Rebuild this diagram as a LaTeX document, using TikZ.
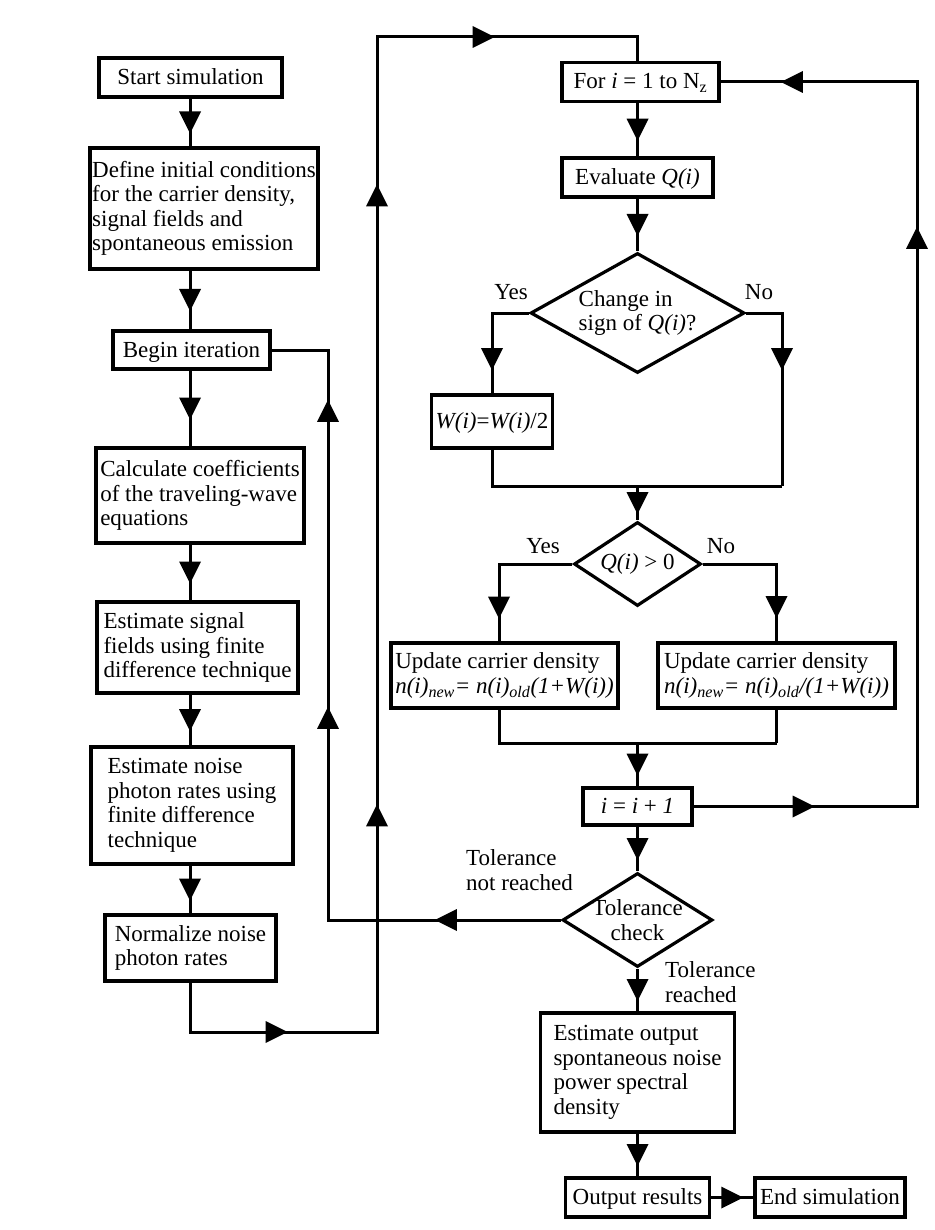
\documentclass[tikz,border=0pt]{standalone}
\usepackage{fontspec}
\setmainfont{Liberation Serif}
\usetikzlibrary{shapes.geometric,decorations.markings}
\begin{document}
\begin{tikzpicture}[x=1pt,y=-1pt,
  every node/.style={font=\fontsize{23}{24.5}\selectfont},
  box/.style={draw, line width=3.2pt, inner sep=0pt, align=center, text height=15pt, text depth=1pt},
  lbox/.style={draw, line width=3.2pt, inner sep=0pt, align=left},
  decision/.style={draw, diamond, line width=3.2pt, inner sep=0pt, align=center},
  lab/.style={inner sep=0pt},
  conn/.style={line width=3pt},
  tri/.style={postaction={decorate,decoration={markings,mark=at position #1 with {\fill[black] (11pt,0pt) -- (-11pt,11pt) -- (-11pt,-11pt) -- cycle;}}}}
]
\fill[white] (0,0) rectangle (934,1230);
\useasboundingbox (0,0) rectangle (934,1230);

\coordinate (spL) at (190,0);
\coordinate (spR) at (637.5,0);

% left column
\node[box, minimum width=183pt, minimum height=39pt] (start) at (190.5,77.5) {Start simulation};
\node[lbox, minimum width=228pt, minimum height=121pt] (define) at (204,208.5) {Define initial conditions\\for the carrier density,\\signal fields and\\spontaneous emission};
\node[box, minimum width=157pt, minimum height=38pt] (begin) at (191.5,350) {Begin iteration};
\node[lbox, minimum width=208pt, minimum height=95pt] (calc) at (200,495.5) {Calculate coefficients\\of the traveling-wave\\equations};
\node[lbox, minimum width=201pt, minimum height=91pt] (signal) at (197.5,647.5) {Estimate signal\\fields using finite\\difference technique};
\node[lbox, minimum width=202pt, minimum height=117pt] (noise) at (192,805.5) {Estimate noise\\photon rates using\\finite difference\\technique};
\node[lbox, minimum width=171pt, minimum height=66pt] (norm) at (190.5,948) {Normalize noise\\photon rates};

% right column
\node[box, minimum width=157pt, minimum height=39pt] (for) at (640.5,82) {For \textit{i} = 1 to N\textsubscript{z}};
\node[box, minimum width=151pt, minimum height=39pt] (eval) at (637.5,177.5) {Evaluate \textit{Q(i)}};
\node[decision, align=left, aspect=1.78, minimum width=214pt, minimum height=120pt] (d1) at (637.5,313) {Change in\\sign of \textit{Q(i)}?};
\node[box, minimum width=121pt, minimum height=53pt] (wbox) at (492,421.5) {\textit{W(i)}=\textit{W(i)}/2};
\node[decision, aspect=1.51, minimum width=127pt, minimum height=84pt] (d2) at (637.5,564) {\textit{Q(i)} > 0};
\node[lbox, minimum width=227pt, minimum height=65pt] (upd1) at (504.5,675.5) {Update carrier density\\\textit{n(i)\textsubscript{new}= n(i)\textsubscript{old}(1+W(i))}};
\node[lbox, minimum width=237pt, minimum height=65pt] (upd2) at (776.5,675.5) {Update carrier density\\\textit{n(i)\textsubscript{new}= n(i)\textsubscript{old}/(1+W(i))}};
\node[box, minimum width=109pt, minimum height=37pt] (inc) at (637.5,806.5) {\textit{i} = \textit{i} + \textit{1}};
\node[decision, aspect=1.6, inner sep=-4pt, minimum width=150pt, minimum height=94pt] (tol) at (637.5,920) {Tolerance\\check};
\node[lbox, minimum width=194pt, minimum height=119pt] (estout) at (637.5,1072.5) {Estimate output\\spontaneous noise\\power spectral\\density};
\node[box, minimum width=144pt, minimum height=39pt] (outres) at (637.5,1197.5) {Output results};
\node[box, minimum width=150pt, minimum height=39pt] (endsim) at (830,1197.5) {End simulation};

% labels
\node[lab, anchor=base] (y1) at (511,300) {Yes};
\node[lab, anchor=base] (n1) at (759,300) {No};
\node[lab, anchor=base] (y2) at (543,553) {Yes};
\node[lab, anchor=base] (n2) at (721,553) {No};
\node[lab, anchor=north west, align=left] (tnr) at (466,849.5) {Tolerance\\not reached};
\node[lab, anchor=north west, align=left] (tr) at (665,961.5) {Tolerance\\reached};

% left column connectors
\draw[conn, tri=0.5] (start.south -| spL) -- (define.north -| spL);
\draw[conn, tri=0.5] (define.south -| spL) -- (begin.north -| spL);
\draw[conn, tri=0.5] (begin.south -| spL) -- (calc.north -| spL);
\draw[conn, tri=0.5] (calc.south -| spL) -- (signal.north -| spL);
\draw[conn, tri=0.5] (signal.south -| spL) -- (noise.north -| spL);
\draw[conn, tri=0.5] (noise.south -| spL) -- (norm.north -| spL);

% normalize loop to For
\coordinate (nl1) at (377,1032);
\coordinate (nl2) at (377,37);
\draw[conn, tri=136pt, tri=453pt, tri=1073pt, tri=1338pt] (norm.south -| spL) |- (nl1) -- (nl2) -| (for.north -| spR);

% right column connectors
\draw[conn, tri=0.5] (for.south -| spR) -- (eval.north -| spR);
\draw[conn, tri=0.5] (eval.south -| spR) -- (d1.north);
\coordinate (m1r) at (782,486);
\coordinate (m1) at (637.5,486);
\draw[conn, tri=83pt] (d1.west) -| (wbox.north);
\draw[conn, tri=82pt] (d1.east) -| (m1r);
\draw[conn] (wbox.south) |- (m1r);
\draw[conn, tri=0.5] (m1) -- (d2.north);
\draw[conn, tri=117pt] (d2.west) -| ([xshift=-5.5pt]upd1.north);
\draw[conn, tri=117pt] (d2.east) -| (upd2.north);
\coordinate (m2r) at (776.5,743);
\coordinate (m2) at (637.5,743);
\draw[conn] ([xshift=-5.5pt]upd1.south) |- (m2r);
\draw[conn] (upd2.south) -- (m2r);
\draw[conn, tri=0.5] (m2) -- (inc.north);
\draw[conn, tri=0.5] (inc.south) -- (tol.north);

% i=i+1 loop back to For
\coordinate (rl) at (917,82);
\draw[conn, tri=110pt, tri=792pt, tri=1073pt] (inc.east) -| (rl) -- (for.east);

% tolerance not reached loop
\coordinate (tl) at (328,350);
\draw[conn, tri=115pt, tri=435pt, tri=742pt] (tol.west) -| (tl) -- (begin.east);

\draw[conn, tri=0.5] (tol.south) -- (estout.north);
\draw[conn, tri=0.5] (estout.south) -- (outres.north);
\draw[conn, tri=0.5] (outres.east) -- (endsim.west);
\end{tikzpicture}
\end{document}
